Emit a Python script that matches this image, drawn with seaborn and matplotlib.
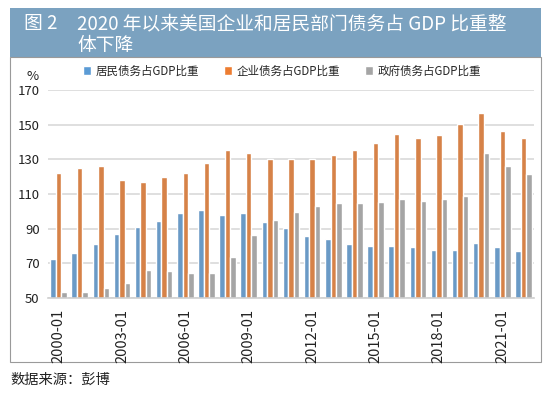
import pandas as pd
import seaborn as sns
import matplotlib.pyplot as plt
from matplotlib.patches import Rectangle

# data
dates = ["2000-01", "2001-01", "2002-01", "2003-01", "2004-01", "2005-01", "2006-01",
         "2007-01", "2008-01", "2009-01", "2010-01", "2011-01", "2012-01", "2013-01",
         "2014-01", "2015-01", "2016-01", "2017-01", "2018-01", "2019-01", "2020-01",
         "2021-01", "2022-01"]
household = [72.5, 76, 81, 87, 91, 94.5, 98.8, 100.7, 98, 99.1, 93.6, 90.1, 85.5, 84,
             81.1, 79.8, 80, 79.6, 77.8, 77.6, 81.5, 79.4, 76.9]
corporate = [122.4, 125, 126, 117.8, 117.2, 119.7, 122.2, 128.1, 135.4, 133.9, 130.2, 130,
             130.4, 132.5, 135.2, 139.6, 144.4, 142.3, 144.2, 150.6, 156.7, 146.5, 142.5]
government = [53.3, 53.3, 55.6, 58.6, 66.3, 65.4, 64.2, 64.6, 73.6, 86.5, 95.1, 99.7,
              103.2, 104.7, 104.7, 105.1, 107.2, 106.2, 107.4, 108.7, 133.5, 126.4, 121.4]
series = ["居民债务占GDP比重", "企业债务占GDP比重", "政府债务占GDP比重"]
colors = ["#5B9BD5", "#ED7D31", "#A5A5A5"]

df = pd.DataFrame({"date": dates * 3,
                   "value": household + corporate + government,
                   "series": [series[0]] * 23 + [series[1]] * 23 + [series[2]] * 23})

sns.set_style("white")
plt.rcParams["font.family"] = ["Noto Sans CJK SC", "DejaVu Sans"]

fig = plt.figure(figsize=(5.5, 3.96), dpi=100)

# title bar and frame
fig.patches.append(Rectangle((10 / 550, 1 - 57 / 396), 531 / 550, 49 / 396,
                             transform=fig.transFigure, facecolor="#7ba2c0",
                             edgecolor="none", zorder=-10))
fig.patches.append(Rectangle((10 / 550, 1 - 362 / 396), 531 / 550, 305 / 396,
                             transform=fig.transFigure, facecolor="white",
                             edgecolor="#9a9a9a", linewidth=0.8, zorder=-10))
fig.text(24 / 550, 1 - 24 / 396, "图 2", color="white", fontsize=13.5, va="center")
fig.text(77 / 550, 1 - 24 / 396, "2020 年以来美国企业和居民部门债务占 GDP 比重整",
         color="white", fontsize=13.5, va="center")
fig.text(77 / 550, 1 - 45 / 396, "体下降", color="white", fontsize=13.5, va="center")
fig.text(10 / 550, 1 - 380 / 396, "数据来源：彭博", color="#222222", fontsize=10.3,
         va="center")

ax = fig.add_axes([48 / 550, 1 - 298 / 396, 486 / 550, 208 / 396])
ax.patch.set_alpha(0)
sns.barplot(data=df, x="date", y="value", hue="series", palette=colors,
            width=0.78, gap=0, ax=ax, legend=False)

ax.set_ylim(50, 170)
ax.set_yticks(range(50, 171, 20))
ax.set_xlim(-0.5, 22.5)
ax.yaxis.grid(True, color="#d9d9d9", linewidth=1.2)
ax.set_axisbelow(True)
for s in ["top", "right", "left"]:
    ax.spines[s].set_visible(False)
ax.spines["bottom"].set_color("#d0d0d0")
ax.spines["bottom"].set_linewidth(1.2)

ax.set_xticks(range(0, 23, 3))
ax.set_xticklabels([dates[i] for i in range(0, 23, 3)],
                   rotation=90, fontsize=10.5, color="#222222")
ax.set_xticks([i - 0.5 for i in range(0, 23, 3)], minor=True)
ax.tick_params(axis="x", which="major", length=0, pad=8)
ax.tick_params(axis="x", which="minor", length=3, color="#c0c0c0", width=1)
ax.tick_params(axis="y", length=0, labelsize=9.5, labelcolor="#222222", pad=6)
ax.set_xlabel("")
ax.set_ylabel("")
fig.text(33 / 550, 1 - 77 / 396, "%", fontsize=9.5, ha="center", va="center",
         color="#222222")

handles = [Rectangle((0, 0), 1, 1, facecolor=c) for c in colors]
fig.legend(handles, series, loc="center left", bbox_to_anchor=(73 / 550, 1 - 71 / 396),
           ncol=3, frameon=False, fontsize=8.3, handlelength=0.7, handleheight=0.7,
           handletextpad=0.35, columnspacing=2.2)

fig.savefig("out.png", dpi=100)
